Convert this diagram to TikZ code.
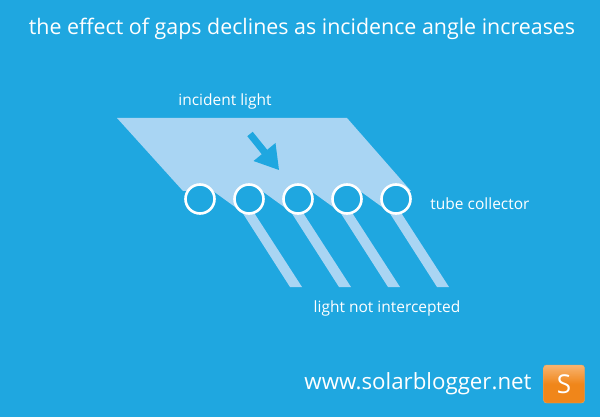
\documentclass[tikz,border=0pt]{standalone}
\usepackage{fontspec}
\setmainfont{Open Sans}
\usetikzlibrary{calc}
\definecolor{bg}{HTML}{1FA7E0}
\definecolor{lite}{HTML}{A9D5F3}
\definecolor{org}{HTML}{F0861A}
\definecolor{orgl}{HTML}{F8B470}
\begin{document}
\begin{tikzpicture}[x=1pt,y=-1pt,
  txt/.style={text=white,inner sep=0pt},
  tube/.style={circle,draw=white,line width=2.6pt,fill=bg,minimum size=29pt,inner sep=0pt}]
\fill[bg] (0,0) rectangle (600,417);
\useasboundingbox (0,0) rectangle (600,417);
\node[txt,font=\fontsize{21.4}{23}\selectfont] (title) at (302,29) {the effect of gaps declines as incidence angle increases};
\node[txt,font=\fontsize{15.5}{17}\selectfont] (inc) at (225,101) {incident light};
\node[txt,font=\fontsize{15.5}{17}\selectfont] (tc) at (480,204) {tube collector};
\node[txt,font=\fontsize{15.5}{17}\selectfont] (lni) at (387,308) {light not intercepted};
\node[txt,font=\fontsize{22.3}{24}\selectfont] (url) at (418,384) {www.solarblogger.net};
% beam
\fill[lite] (117,118) -- (347,118) -- (411,191) -- (183,191) -- cycle;
\foreach \i in {0,...,3}{
  \fill[lite,xshift=\i*49pt] (213,191) -- (240,191) -- (302,287) -- (290,287) -- (242,212) -- cycle;
}
\foreach \i/\x in {1/200,2/249,3/298,4/347,5/396}{
  \node[tube] (t\i) at (\x,199) {};
}
% arrow
\coordinate (as) at (250,134);
\coordinate (ae) at (279,170);
\draw[bg,line width=7pt] (as) -- ($(as)!0.6!(ae)$);
\fill[bg] (ae) -- ($(as)!0.5!(ae)+(-11,9)$) -- ($(as)!0.5!(ae)+(11,-9)$) -- cycle;
% logo
\node[draw=orgl!70!org,rounded corners=3pt,minimum width=41pt,minimum height=38pt,inner sep=0pt,
  top color=orgl,bottom color=org,middle color=org] (logo) at (564,384) {};
\node[txt,font=\fontsize{26}{28}\selectfont] (s) at (logo) {S};
\end{tikzpicture}
\end{document}
